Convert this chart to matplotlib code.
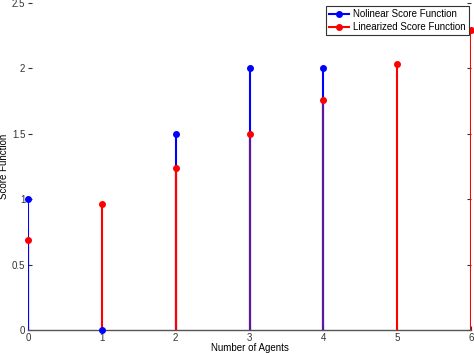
import matplotlib
matplotlib.use('Agg')
import matplotlib.pyplot as plt
import numpy

plt.rcParams['font.family'] = ['Liberation Sans', 'DejaVu Sans']

agents = [0, 1, 2, 3, 4, 5, 6]
nonlinear_x = [0, 1, 2, 3, 4]
nonlinear = [1.0, 0.0, 1.5, 2.0, 2.0]
linearized = [0.69, 0.96, 1.24, 1.50, 1.76, 2.03, 2.29]

BLUE = '#0000ff'
RED = '#ff0000'
PURPLE = '#5a1a9c'
# colour of the shared part of the two stems (as rendered in the original)
overlap_colors = [BLUE, RED, RED, PURPLE, PURPLE]

fig = plt.figure(figsize=(4.74, 3.53), dpi=100)
ax = fig.add_axes([0.059, 0.065, 0.935, 0.927])

ax.vlines(nonlinear_x, 0, nonlinear, color=BLUE, linewidth=1.5)
ax.vlines(agents, 0, linearized, color=RED, linewidth=1.5)
shared = numpy.minimum(nonlinear, linearized[:len(nonlinear)])
ax.vlines(nonlinear_x, 0, shared, colors=overlap_colors, linewidth=1.5)

ax.plot(nonlinear_x, nonlinear, 'o', color=BLUE, markersize=4, clip_on=False, zorder=4)
ax.plot(agents, linearized, 'o', color=RED, markersize=4, clip_on=False, zorder=4)

# legend handles with line + marker
h1, = ax.plot([], [], '-o', color=BLUE, markersize=4, linewidth=1.5)
h2, = ax.plot([], [], '-o', color=RED, markersize=4, linewidth=1.5)
leg = ax.legend([h1, h2], ['Nolinear Score Function', 'Linearized Score Function'],
				loc='upper right', bbox_to_anchor=(0.995, 0.99), fontsize=7,
				fancybox=False, framealpha=1, borderpad=0.3, labelspacing=0.3,
				handlelength=2.0, handletextpad=0.5, borderaxespad=0)
leg.get_frame().set_edgecolor('#333333')
leg.get_frame().set_linewidth(0.8)

ax.set_xlim(0, 6)
ax.set_ylim(0, 2.5)
ax.set_xticks(agents)
ax.set_yticks([0, 0.5, 1, 1.5, 2, 2.5])
ax.set_yticklabels(['0', '0.5', '1', '1.5', '2', '2.5'])

for side in ['left', 'top', 'right']:
	ax.spines[side].set_visible(False)
ax.spines['bottom'].set_color('#555555')
ax.spines['bottom'].set_linewidth(1.0)

ax.tick_params(axis='both', direction='in', length=3, labelsize=7, colors='#333333', pad=2)
ax.tick_params(axis='y', right=True)

ax.set_xlabel('Number of Agents', fontsize=7, labelpad=0)
ax.set_ylabel('Score Function', fontsize=7, labelpad=2)

fig.savefig('out.png', dpi=100)
